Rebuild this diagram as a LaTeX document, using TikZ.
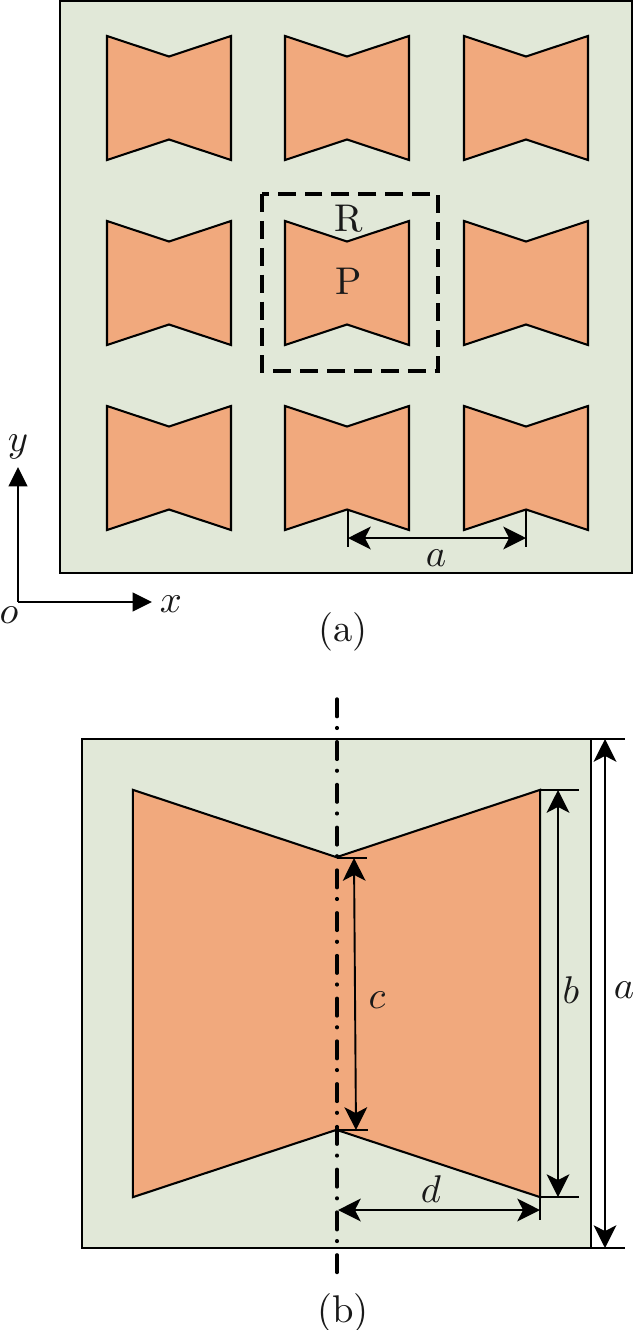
\documentclass[tikz,border=0pt]{standalone}
\usetikzlibrary{arrows.meta}
\definecolor{cellgreen}{HTML}{E1E8D8}
\definecolor{patchorange}{HTML}{F1A97D}
\tikzset{
	tie/.pic={
        code={
\draw[black,fill=patchorange,line width=0.6pt,line join=miter](-62,-62)--(0,-41.5)--(62,-62)--(62,62)--(0,41.5)--(-62,62)--cycle;
							}
	}
}
\tikzset{
	cell/.style={draw=black,fill=cellgreen,line width=0.65pt},
	dim/.style={black,line width=0.55pt,{Stealth[length=6.6pt,width=6.6pt,inset=1.7pt]}-{Stealth[length=6.6pt,width=6.6pt,inset=1.7pt]}},
	ext/.style={black,line width=0.5pt},
	axis/.style={black,line width=0.6pt,-{Triangle[length=5.6pt,width=5.4pt]}},
	txt/.style={inner sep=0pt,text=black!90,scale=1.12}
}

\begin{document}
\begin{tikzpicture}[x=0.29pt,y=-0.29pt]
\useasboundingbox (0,0) rectangle (636,1330);
%Panel a
\draw[cell] (60,1) rectangle (632,573);
\foreach \xpos in {169,347,526}{
	\foreach \ypos in {98,283,468}{
		\path (\xpos,\ypos) pic {tie};
	}
}
\draw[black,line width=1pt,dash pattern=on 5.2pt off 2.6pt] (262,194) rectangle (438,371);
\node[txt] (R) at (349,219) {R};
\node[txt] (P) at (349,281) {P};

\coordinate (a1) at (348,509);
\coordinate (a1end) at (348,547);
\coordinate (a2) at (526,509);
\coordinate (a2end) at (526,547);
\coordinate (a1mid) at (348,538);
\coordinate (a2mid) at (526,538);
\draw[ext] (a1)--(a1end);
\draw[ext] (a2)--(a2end);
\draw[dim] (a1mid)--(a2mid);
\node[txt] (alabel) at (436,558) {$a$};

%Axes
\coordinate (O) at (18,602);
\coordinate (ytip) at (18,467);
\coordinate (xtip) at (152,602);
\draw[axis] (O)--(ytip);
\draw[axis] (O)--(xtip);
\node[txt] (ylabel) at (18,447) {$y$};
\node[txt] (xlabel) at (171,604) {$x$};
\node[txt] (olabel) at (9,615) {$o$};
\node[txt] (capa) at (343,632) {(a)};

%Panel b
\draw[cell] (82,739) rectangle (591,1248);
\path (336.5,993.5) pic[scale=3.285] {tie};

\coordinate (top) at (337,699);
\coordinate (bottom) at (337,1278);
\draw[black,line width=1pt,line cap=round,dash pattern=on 5.1pt off 3.2pt on 0.2pt off 3.9pt] (top)--(bottom);

\coordinate (t1) at (82,739);
\coordinate (t2) at (625,739);
\coordinate (b1) at (82,1248);
\coordinate (b2) at (625,1248);
\draw[ext] (t1)--(t2);
\draw[ext] (b1)--(b2);
\coordinate (aup) at (605,739);
\coordinate (adown) at (605,1248);
\draw[dim] (aup)--(adown);
\node[txt] (aside) at (624,990) {$a$};

\coordinate (p1) at (540,790);
\coordinate (p2) at (579,790);
\coordinate (q1) at (540,1197);
\coordinate (q2) at (579,1197);
\coordinate (qend) at (540,1220);
\draw[ext] (p1)--(p2);
\draw[ext] (q1)--(q2);
\draw[ext] (q1)--(qend);
\coordinate (bup) at (558,790);
\coordinate (bdown) at (558,1197);
\draw[dim] (bup)--(bdown);
\node[txt] (bside) at (571,990) {$b$};

\coordinate (n1) at (337,858);
\coordinate (n2) at (367,858);
\coordinate (m1) at (337,1130);
\coordinate (m2) at (368,1130);
\draw[ext] (n1)--(n2);
\draw[ext] (m1)--(m2);
\coordinate (cup) at (354,858);
\coordinate (cdown) at (356,1130);
\draw[dim] (cup)--(cdown);
\node[txt] (cside) at (377,1000) {$c$};

\coordinate (dleft) at (338,1210);
\coordinate (dright) at (540,1210);
\draw[dim] (dleft)--(dright);
\node[txt] (dside) at (431,1189) {$d$};
\node[txt] (capb) at (343,1313) {(b)};
\end{tikzpicture}
\end{document}
